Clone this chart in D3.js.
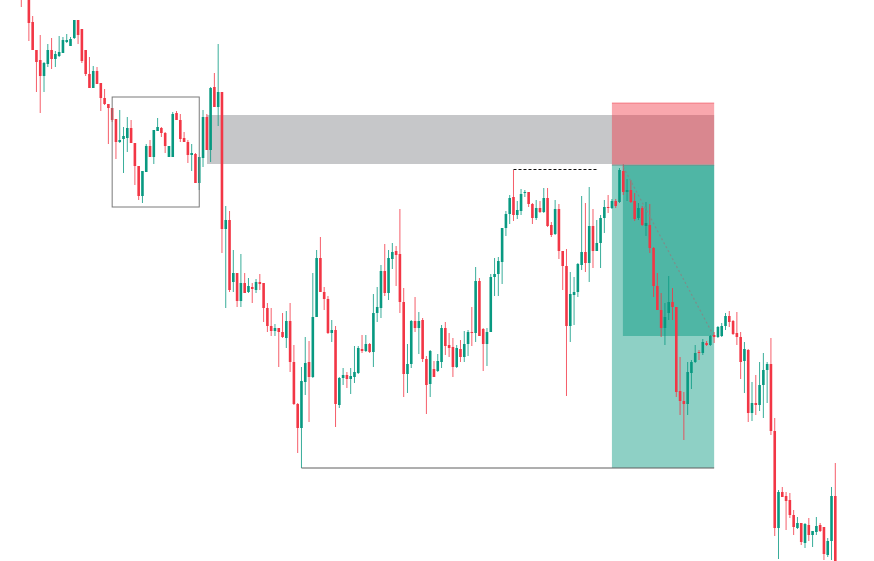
<!DOCTYPE html>
<html>
<head>
<meta charset="utf-8">
<script src="https://cdn.jsdelivr.net/npm/d3@7/dist/d3.min.js"></script>
<style>
  html, body { margin: 0; padding: 0; background: #ffffff; }
  svg { display: block; }
</style>
</head>
<body>
<svg id="chart" width="874" height="561"></svg>
<script>
// ---- Data (price units) ----
const opens = [630,615,605,578,550,540,524,536,550,541,544,547,558,554,562,580,571,550,526,512,
  529,517,502,496,492,481,458,461,462,472,457,434,404,428,454,443,469,472,467,443,
  443,487,480,462,458,445,446,417,442,483,450,513,493,508,371,380,318,327,299,317,
  308,313,310,318,317,292,274,269,272,268,262,279,238,196,172,218,238,223,283,342,
  308,301,267,270,195,222,225,221,223,227,251,249,256,248,287,292,329,307,341,349,
  346,298,226,236,279,272,280,241,216,231,229,238,272,255,253,233,251,243,256,268,
  267,319,271,256,268,323,326,338,372,386,403,385,389,407,408,396,382,392,388,402,
  375,366,391,349,334,274,305,308,335,348,337,374,349,357,382,393,392,399,398,429,
  408,410,399,382,392,374,375,352,314,290,272,287,298,293,209,199,196,227,238,248,
  247,257,255,265,263,264,274,284,279,267,263,239,250,187,197,195,215,230,236,169,
  72,108,104,100,85,72,77,57,75,65,68,75,73,45,59,104];
const highs = [635,640,610,584,550,565,538,556,562,549,564,563,566,563,580,580,571,550,543,534,
  533,517,511,496,492,481,490,473,483,480,457,434,429,456,460,470,482,473,468,454,
  488,489,486,468,460,456,447,443,490,486,513,527,556,508,394,389,350,327,346,327,
  322,317,321,326,317,297,292,276,272,287,289,297,255,197,233,263,259,327,350,363,
  313,304,280,274,223,232,228,232,254,254,265,265,257,306,313,335,356,350,357,354,
  391,312,256,280,303,288,282,244,250,239,246,275,278,267,262,255,260,269,270,293,
  333,322,272,272,326,342,343,372,389,405,430,399,411,410,408,397,400,399,412,412,
  378,400,396,349,351,328,323,337,404,397,413,391,380,385,400,405,401,401,432,436,
  421,420,407,397,394,398,396,353,327,307,297,324,312,293,243,208,238,240,255,250,
  261,259,265,268,274,277,287,289,280,288,268,258,251,218,225,238,247,238,262,182,
  110,113,108,107,90,83,77,77,82,69,83,77,73,62,113,137];
const lows = [593,608,559,550,508,487,508,533,531,533,543,547,557,554,561,556,537,524,512,512,
  516,489,495,456,478,441,457,427,448,457,415,400,397,428,443,436,469,463,447,443,
  443,480,458,458,437,429,417,410,433,450,438,493,474,347,292,308,308,293,293,307,
  307,297,307,310,278,268,264,264,233,262,252,228,195,147,132,205,178,222,283,308,
  290,266,258,173,192,215,212,206,217,226,247,248,247,233,278,282,304,300,331,314,
  287,203,207,232,268,246,238,186,203,223,228,232,245,243,223,232,238,238,244,254,
  258,264,229,234,268,304,304,316,364,376,379,381,385,403,393,376,380,387,387,373,
  363,365,341,310,204,258,275,303,330,328,318,332,349,332,367,387,391,392,397,405,
  399,397,379,380,374,364,347,303,290,263,255,280,280,203,185,160,185,211,237,240,
  245,254,254,257,262,263,270,273,265,255,221,207,178,179,185,189,182,197,165,64,
  41,103,70,82,65,71,55,52,59,53,65,68,40,43,40,35];
const closes = [615,620,577,550,538,524,537,550,541,546,548,560,560,561,580,565,539,526,512,529,
  516,502,496,492,480,458,460,464,472,457,434,404,429,454,443,470,473,467,454,454,
  486,480,461,458,445,447,417,443,483,450,512,493,508,371,380,310,327,299,317,307,
  314,311,318,316,292,274,269,272,268,263,279,238,196,172,219,237,223,283,342,308,
  301,267,270,196,222,225,221,224,228,252,249,256,248,287,293,329,307,342,348,345,
  298,226,236,279,272,279,241,215,249,223,239,272,254,252,233,252,243,256,268,267,
  319,264,256,268,323,326,339,372,386,402,385,390,406,408,396,382,392,388,402,374,
  365,391,349,334,274,306,308,336,348,337,374,349,357,382,393,392,399,394,430,408,
  410,398,381,392,375,377,352,314,290,272,283,298,293,208,199,196,228,238,247,247,
  258,255,264,263,273,274,284,278,266,263,238,251,187,197,195,215,230,236,169,72,
  108,103,99,85,73,77,58,76,65,69,74,69,46,59,104,39];

// ---- Annotation values (candle index / price) ----
const boxZone   = { i0: 24, i1: 47, pTop: 503, pBot: 393 };
const grayZone  = { i0: 49.05, i1: 183, pTop: 485, pBot: 436 };
const stopZone  = { i0: 156, i1: 183, pTop: 497, pBot: 435 };
const targetZone= { i0: 156, i1: 183, pTop: 435, pBot: 132 };
const innerZone = { i0: 158.9, i1: 183, pTop: 435, pBot: 264 };
const lowLine   = { i0: 74, i1: 183, p: 132 };
const highLine  = { i0: 130, i1: 152, p: 430.5 };
const pathLine  = { i0: 159, p0: 433, i1: 182.5, p1: 267 };

const candles = opens.map((o, i) => ({ i, o, h: highs[i], l: lows[i], c: closes[i] }));

const svg = d3.select("#chart");
const x = d3.scaleLinear().domain([0, candles.length - 1]).range([21.3, 835.3]);
const y = d3.scaleLinear().domain([39, 600]).range([561, 0]);

const UP = "#089981", DOWN = "#f23645";

// zones
function zone(z, fill, op) {
  svg.append("rect")
    .attr("x", x(z.i0)).attr("y", y(z.pTop))
    .attr("width", x(z.i1) - x(z.i0)).attr("height", y(z.pBot) - y(z.pTop))
    .attr("fill", fill).attr("fill-opacity", op);
}
zone(grayZone, "#c6c7c9", 1);
zone(stopZone, "#f23645", 0.44);
zone(targetZone, "#089981", 0.46);
zone(innerZone, "#089981", 0.47);

// stop zone top border
svg.append("line")
  .attr("x1", x(stopZone.i0)).attr("x2", x(stopZone.i1))
  .attr("y1", y(stopZone.pTop)).attr("y2", y(stopZone.pTop))
  .attr("stroke", "#f23645").attr("stroke-opacity", 0.5).attr("stroke-width", 1);

// candles
const g = svg.append("g");
const bw = 2.6;
g.selectAll("line.wick").data(candles).join("line")
  .attr("class", "wick")
  .attr("x1", d => x(d.i)).attr("x2", d => x(d.i))
  .attr("y1", d => y(d.h)).attr("y2", d => y(d.l))
  .attr("stroke", d => d.c >= d.o ? UP : DOWN)
  .attr("stroke-opacity", 0.8)
  .attr("stroke-width", 1);
g.selectAll("rect.body").data(candles).join("rect")
  .attr("class", "body")
  .attr("x", d => x(d.i) - bw / 2)
  .attr("y", d => y(Math.max(d.o, d.c)))
  .attr("width", bw)
  .attr("height", d => Math.max(1, Math.abs(y(d.o) - y(d.c))))
  .attr("fill", d => d.c >= d.o ? UP : DOWN);

// entry line
svg.append("line")
  .attr("x1", x(stopZone.i0)).attr("x2", x(stopZone.i1))
  .attr("y1", y(stopZone.pBot)).attr("y2", y(stopZone.pBot))
  .attr("stroke", "#6f8a86").attr("stroke-width", 1.2);

// box
svg.append("rect")
  .attr("x", x(boxZone.i0)).attr("y", y(boxZone.pTop))
  .attr("width", x(boxZone.i1) - x(boxZone.i0)).attr("height", y(boxZone.pBot) - y(boxZone.pTop))
  .attr("fill", "none").attr("stroke", "#7a7a7a").attr("stroke-width", 1);

// low horizontal line
svg.append("line")
  .attr("x1", x(lowLine.i0)).attr("x2", x(lowLine.i1))
  .attr("y1", y(lowLine.p)).attr("y2", y(lowLine.p))
  .attr("stroke", "#5f5f5f").attr("stroke-width", 1);

// dashed high line
svg.append("line")
  .attr("x1", x(highLine.i0)).attr("x2", x(highLine.i1))
  .attr("y1", y(highLine.p)).attr("y2", y(highLine.p))
  .attr("stroke", "#111").attr("stroke-width", 1).attr("stroke-dasharray", "3,2");

// dotted path line
svg.append("line")
  .attr("x1", x(pathLine.i0)).attr("x2", x(pathLine.i1))
  .attr("y1", y(pathLine.p0)).attr("y2", y(pathLine.p1))
  .attr("stroke", "#7d8e8a").attr("stroke-width", 1.2).attr("stroke-dasharray", "2,2.5");
</script>
</body>
</html>
